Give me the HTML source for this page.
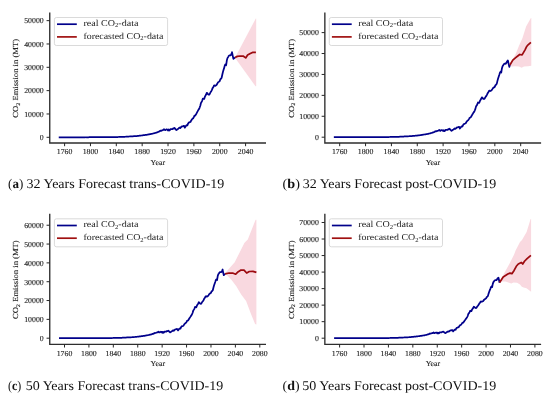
<!DOCTYPE html>
<html><head><meta charset="utf-8"><style>
html,body{margin:0;padding:0;background:#fff;}
svg{display:block;filter:blur(0.35px);}
text{font-family:"Liberation Serif", serif;text-rendering:geometricPrecision;}
.tk{font-size:7.6px;fill:#222;stroke:#222;stroke-width:0.12px;}
.sub{font-size:5.6px;}
.yl{font-size:7.7px;}
.lg{font-size:9px;fill:#222;}
.lsub{font-size:6px;}
.cap{font-size:13.4px;fill:#111;}
</style></head><body>
<svg width="550" height="398" viewBox="0 0 550 398">
<rect width="550" height="398" fill="#fff"/>
<polygon points="235.00,57.70 255.80,18.40 256.20,18.40 256.20,86.20 255.50,86.20" fill="#f9d9e0" stroke="none"/>
<polyline points="58.74,137.28 59.38,137.28 60.03,137.28 60.68,137.28 61.32,137.28 61.97,137.28 62.61,137.28 63.26,137.28 63.91,137.28 64.55,137.28 65.20,137.28 65.85,137.28 66.49,137.28 67.14,137.28 67.79,137.28 68.43,137.28 69.08,137.28 69.72,137.28 70.37,137.28 71.02,137.27 71.66,137.27 72.31,137.27 72.96,137.27 73.60,137.27 74.25,137.27 74.90,137.27 75.54,137.27 76.19,137.27 76.84,137.27 77.48,137.27 78.13,137.27 78.77,137.27 79.42,137.27 80.07,137.27 80.71,137.26 81.36,137.26 82.01,137.26 82.65,137.26 83.30,137.26 83.95,137.26 84.59,137.26 85.24,137.26 85.88,137.25 86.53,137.25 87.18,137.25 87.82,137.25 88.47,137.25 89.12,137.24 89.76,137.24 90.41,137.24 91.06,137.24 91.70,137.23 92.35,137.23 93.00,137.23 93.64,137.23 94.29,137.22 94.93,137.22 95.58,137.22 96.23,137.22 96.87,137.21 97.52,137.21 98.17,137.21 98.81,137.21 99.46,137.20 100.11,137.20 100.75,137.20 101.40,137.20 102.04,137.19 102.69,137.19 103.34,137.19 103.98,137.18 104.63,137.18 105.28,137.17 105.92,137.17 106.57,137.16 107.22,137.16 107.86,137.16 108.51,137.15 109.16,137.14 109.80,137.14 110.45,137.13 111.09,137.13 111.74,137.12 112.39,137.11 113.03,137.10 113.68,137.09 114.33,137.08 114.97,137.07 115.62,137.05 116.27,137.04 116.91,137.03 117.56,137.01 118.20,137.00 118.85,136.98 119.50,136.97 120.14,136.95 120.79,136.93 121.44,136.91 122.08,136.89 122.73,136.87 123.38,136.84 124.02,136.82 124.67,136.78 125.32,136.75 125.96,136.72 126.61,136.68 127.25,136.64 127.90,136.59 128.55,136.55 129.19,136.50 129.84,136.45 130.49,136.42 131.13,136.38 131.78,136.35 132.43,136.31 133.07,136.28 133.72,136.24 134.36,136.20 135.01,136.16 135.66,136.12 136.30,136.08 136.95,136.02 137.60,135.95 138.24,135.89 138.89,135.82 139.54,135.74 140.18,135.67 140.83,135.59 141.48,135.50 142.12,135.41 142.77,135.32 143.41,135.24 144.06,135.15 144.71,135.06 145.35,134.97 146.00,134.87 146.65,134.77 147.29,134.66 147.94,134.54 148.59,134.42 149.23,134.30 149.88,134.18 150.52,134.05 151.17,133.92 151.82,133.79 152.46,133.65 153.11,133.49 153.76,133.33 154.40,133.16 155.05,132.98 155.70,132.80 156.34,132.63 156.99,132.50 157.64,132.01 158.28,131.99 158.93,131.62 159.57,131.29 160.22,130.65 160.87,130.88 161.51,130.60 162.16,130.28 162.81,130.14 163.45,129.77 164.10,129.22 164.75,130.00 165.39,130.14 166.04,129.61 166.68,129.31 167.33,129.54 167.98,130.49 168.62,129.40 169.27,130.53 169.92,130.12 170.56,129.05 171.21,129.17 171.86,129.05 172.50,129.05 173.15,128.41 173.80,128.52 174.44,127.92 175.09,128.64 175.73,129.45 176.38,130.12 177.03,129.72 177.67,129.12 178.32,128.78 178.97,128.04 179.61,127.55 180.26,128.06 180.91,127.44 181.55,126.56 182.20,126.33 182.84,126.35 183.49,125.87 184.14,125.91 184.78,127.67 185.43,126.77 186.08,125.73 186.72,125.10 187.37,125.41 188.02,123.65 188.66,122.66 189.31,122.43 189.96,122.10 190.60,121.76 191.25,120.44 191.89,119.42 192.54,118.73 193.19,118.25 193.83,117.14 194.48,115.64 195.13,115.57 195.77,114.80 196.42,113.58 197.07,112.36 197.71,111.20 198.36,109.91 199.00,109.03 199.65,107.55 200.30,105.73 200.94,102.96 201.59,102.01 202.24,100.55 202.88,98.54 203.53,98.96 204.18,98.98 204.82,96.90 205.47,95.61 206.12,94.48 206.76,92.79 207.41,93.21 208.05,94.34 208.70,94.71 209.35,94.55 209.99,93.28 210.64,92.03 211.29,91.15 211.93,89.88 212.58,88.15 213.23,87.32 213.87,85.77 214.52,85.31 215.16,85.86 215.81,85.52 216.46,85.06 217.10,83.97 217.75,82.84 218.40,81.98 219.04,81.71 219.69,81.11 220.34,79.28 220.98,78.84 221.63,77.80 222.28,74.75 222.92,72.03 223.57,69.81 224.21,67.66 224.86,65.31 225.51,64.34 226.15,65.24 226.80,60.57 227.45,58.12 228.09,57.09 228.74,55.84 229.39,55.35 230.03,55.35 230.68,55.40 231.32,54.31 231.97,52.65 232.00,52.20 233.40,58.90 235.00,57.50" fill="none" stroke="#00008b" stroke-width="1.75" stroke-linejoin="round"/>
<polyline points="235.00,57.50 237.30,56.40 240.10,56.00 243.10,56.00 245.70,57.90 247.60,55.10 250.30,53.60 252.50,52.40 255.90,52.40" fill="none" stroke="#9c0a0f" stroke-width="1.75" stroke-linejoin="round"/>
<path d="M49.75 12.50V143.00H266.00" fill="none" stroke="#2e2e2e" stroke-width="1.35"/>
<path d="M46.55 137.30H49.75" stroke="#262626" stroke-width="1"/>
<text x="43.70" y="140.10" text-anchor="end" class="tk" textLength="3.90" lengthAdjust="spacingAndGlyphs">0</text>
<path d="M46.55 113.97H49.75" stroke="#262626" stroke-width="1"/>
<text x="43.70" y="116.77" text-anchor="end" class="tk" textLength="19.50" lengthAdjust="spacingAndGlyphs">10000</text>
<path d="M46.55 90.64H49.75" stroke="#262626" stroke-width="1"/>
<text x="43.70" y="93.44" text-anchor="end" class="tk" textLength="19.50" lengthAdjust="spacingAndGlyphs">20000</text>
<path d="M46.55 67.31H49.75" stroke="#262626" stroke-width="1"/>
<text x="43.70" y="70.11" text-anchor="end" class="tk" textLength="19.50" lengthAdjust="spacingAndGlyphs">30000</text>
<path d="M46.55 43.98H49.75" stroke="#262626" stroke-width="1"/>
<text x="43.70" y="46.78" text-anchor="end" class="tk" textLength="19.50" lengthAdjust="spacingAndGlyphs">40000</text>
<path d="M46.55 20.65H49.75" stroke="#262626" stroke-width="1"/>
<text x="43.70" y="23.45" text-anchor="end" class="tk" textLength="19.50" lengthAdjust="spacingAndGlyphs">50000</text>
<path d="M64.60 143.00V146.20" stroke="#262626" stroke-width="1"/>
<text x="64.60" y="154.20" text-anchor="middle" class="tk" textLength="15.6" lengthAdjust="spacingAndGlyphs">1760</text>
<path d="M90.46 143.00V146.20" stroke="#262626" stroke-width="1"/>
<text x="90.46" y="154.20" text-anchor="middle" class="tk" textLength="15.6" lengthAdjust="spacingAndGlyphs">1800</text>
<path d="M116.31 143.00V146.20" stroke="#262626" stroke-width="1"/>
<text x="116.31" y="154.20" text-anchor="middle" class="tk" textLength="15.6" lengthAdjust="spacingAndGlyphs">1840</text>
<path d="M142.17 143.00V146.20" stroke="#262626" stroke-width="1"/>
<text x="142.17" y="154.20" text-anchor="middle" class="tk" textLength="15.6" lengthAdjust="spacingAndGlyphs">1880</text>
<path d="M168.02 143.00V146.20" stroke="#262626" stroke-width="1"/>
<text x="168.02" y="154.20" text-anchor="middle" class="tk" textLength="15.6" lengthAdjust="spacingAndGlyphs">1920</text>
<path d="M193.88 143.00V146.20" stroke="#262626" stroke-width="1"/>
<text x="193.88" y="154.20" text-anchor="middle" class="tk" textLength="15.6" lengthAdjust="spacingAndGlyphs">1960</text>
<path d="M219.74 143.00V146.20" stroke="#262626" stroke-width="1"/>
<text x="219.74" y="154.20" text-anchor="middle" class="tk" textLength="15.6" lengthAdjust="spacingAndGlyphs">2000</text>
<path d="M245.59 143.00V146.20" stroke="#262626" stroke-width="1"/>
<text x="245.59" y="154.20" text-anchor="middle" class="tk" textLength="15.6" lengthAdjust="spacingAndGlyphs">2040</text>
<text x="157.80" y="164.80" text-anchor="middle" class="tk" textLength="14.4" lengthAdjust="spacingAndGlyphs">Year</text>
<text transform="translate(18.40,78.40) rotate(-90)" text-anchor="middle" class="tk yl" textLength="78.8" lengthAdjust="spacingAndGlyphs">CO<tspan class="sub" dy="1.3">2</tspan><tspan dy="-1.3"> Emission in (MT)</tspan></text>
<rect x="54.40" y="17.50" width="113.2" height="28" rx="2" fill="#fff" fill-opacity="0.8" stroke="#d0d0d0" stroke-width="0.8"/>
<path d="M57.00 24.20H76.80" stroke="#00008b" stroke-width="1.7"/>
<path d="M57.00 36.90H76.80" stroke="#a01010" stroke-width="1.7"/>
<text x="83.40" y="25.90" class="lg" textLength="55" lengthAdjust="spacingAndGlyphs">real CO<tspan class="lsub" dy="1.5">2</tspan><tspan dy="-1.5">-data</tspan></text>
<text x="83.40" y="38.80" class="lg" textLength="80" lengthAdjust="spacingAndGlyphs">forecasted CO<tspan class="lsub" dy="1.5">2</tspan><tspan dy="-1.5">-data</tspan></text>
<text x="8.10" y="187.80" class="cap" textLength="15.20" lengthAdjust="spacingAndGlyphs"><tspan>(</tspan><tspan font-weight="bold">a</tspan><tspan>)</tspan></text>
<text x="26.40" y="187.80" class="cap" textLength="198.00" lengthAdjust="spacingAndGlyphs">32 Years Forecast trans-COVID-19</text>
<polygon points="509.60,66.00 512.00,60.50 515.70,54.10 518.90,46.00 522.50,38.00 526.10,26.60 530.90,18.10 531.30,18.10 531.30,65.70 528.00,66.30 524.00,66.50 521.60,67.70 519.00,66.60 515.00,66.20 512.00,66.40" fill="#f9d9e0" stroke="none"/>
<polyline points="333.84,137.18 334.48,137.18 335.13,137.18 335.78,137.18 336.42,137.18 337.07,137.18 337.71,137.18 338.36,137.18 339.01,137.18 339.65,137.18 340.30,137.18 340.95,137.18 341.59,137.18 342.24,137.18 342.89,137.18 343.53,137.18 344.18,137.18 344.82,137.18 345.47,137.18 346.12,137.18 346.76,137.18 347.41,137.18 348.06,137.18 348.70,137.18 349.35,137.17 350.00,137.17 350.64,137.17 351.29,137.17 351.94,137.17 352.58,137.17 353.23,137.17 353.87,137.17 354.52,137.17 355.17,137.17 355.81,137.17 356.46,137.17 357.11,137.17 357.75,137.17 358.40,137.16 359.05,137.16 359.69,137.16 360.34,137.16 360.98,137.16 361.63,137.16 362.28,137.16 362.92,137.15 363.57,137.15 364.22,137.15 364.86,137.15 365.51,137.14 366.16,137.14 366.80,137.14 367.45,137.14 368.10,137.14 368.74,137.13 369.39,137.13 370.03,137.13 370.68,137.13 371.33,137.13 371.97,137.12 372.62,137.12 373.27,137.12 373.91,137.12 374.56,137.11 375.21,137.11 375.85,137.11 376.50,137.11 377.14,137.10 377.79,137.10 378.44,137.10 379.08,137.09 379.73,137.09 380.38,137.09 381.02,137.08 381.67,137.08 382.32,137.07 382.96,137.07 383.61,137.07 384.26,137.06 384.90,137.06 385.55,137.05 386.19,137.04 386.84,137.04 387.49,137.03 388.13,137.02 388.78,137.01 389.43,137.00 390.07,136.99 390.72,136.98 391.37,136.97 392.01,136.96 392.66,136.94 393.30,136.93 393.95,136.91 394.60,136.90 395.24,136.88 395.89,136.87 396.54,136.85 397.18,136.83 397.83,136.81 398.48,136.79 399.12,136.77 399.77,136.74 400.42,136.71 401.06,136.68 401.71,136.64 402.35,136.61 403.00,136.57 403.65,136.53 404.29,136.48 404.94,136.44 405.59,136.41 406.23,136.38 406.88,136.35 407.53,136.32 408.17,136.28 408.82,136.25 409.46,136.22 410.11,136.18 410.76,136.14 411.40,136.10 412.05,136.05 412.70,135.99 413.34,135.93 413.99,135.87 414.64,135.80 415.28,135.74 415.93,135.66 416.58,135.59 417.22,135.51 417.87,135.43 418.51,135.35 419.16,135.27 419.81,135.20 420.45,135.11 421.10,135.03 421.75,134.93 422.39,134.83 423.04,134.73 423.69,134.62 424.33,134.51 424.98,134.40 425.62,134.29 426.27,134.17 426.92,134.05 427.56,133.93 428.21,133.79 428.86,133.64 429.50,133.49 430.15,133.33 430.80,133.16 431.44,133.02 432.09,132.89 432.74,132.46 433.38,132.44 434.03,132.11 434.67,131.82 435.32,131.24 435.97,131.44 436.61,131.19 437.26,130.90 437.91,130.78 438.55,130.45 439.20,129.95 439.85,130.66 440.49,130.78 441.14,130.30 441.78,130.03 442.43,130.24 443.08,131.09 443.72,130.12 444.37,131.13 445.02,130.76 445.66,129.81 446.31,129.91 446.96,129.81 447.60,129.81 448.25,129.23 448.90,129.33 449.54,128.79 450.19,129.43 450.83,130.16 451.48,130.76 452.13,130.41 452.77,129.87 453.42,129.56 454.07,128.89 454.71,128.46 455.36,128.92 456.01,128.36 456.65,127.57 457.30,127.36 457.94,127.38 458.59,126.95 459.24,126.99 459.88,128.56 460.53,127.76 461.18,126.82 461.82,126.26 462.47,126.53 463.12,124.96 463.76,124.07 464.41,123.86 465.06,123.57 465.70,123.26 466.35,122.08 466.99,121.17 467.64,120.55 468.29,120.11 468.93,119.12 469.58,117.77 470.23,117.71 470.87,117.03 471.52,115.93 472.17,114.83 472.81,113.80 473.46,112.64 474.10,111.85 474.75,110.52 475.40,108.89 476.04,106.40 476.69,105.55 477.34,104.25 477.98,102.45 478.63,102.82 479.28,102.84 479.92,100.98 480.57,99.82 481.22,98.80 481.86,97.29 482.51,97.66 483.15,98.68 483.80,99.01 484.45,98.86 485.09,97.73 485.74,96.61 486.39,95.82 487.03,94.68 487.68,93.13 488.33,92.38 488.97,90.99 489.62,90.58 490.26,91.08 490.91,90.77 491.56,90.35 492.20,89.38 492.85,88.36 493.50,87.60 494.14,87.35 494.79,86.81 495.44,85.17 496.08,84.78 496.73,83.85 497.38,81.12 498.02,78.67 498.67,76.68 499.31,74.76 499.96,72.64 500.61,71.77 501.25,72.58 501.90,68.40 502.55,66.20 503.19,65.27 503.84,64.15 504.49,63.72 505.13,63.72 505.78,63.76 506.42,62.79 507.07,61.29 507.90,60.50 509.30,66.90 509.90,65.00" fill="none" stroke="#00008b" stroke-width="1.75" stroke-linejoin="round"/>
<polyline points="509.90,65.00 512.80,60.10 515.70,57.70 519.70,54.50 522.10,54.90 524.90,50.10 526.50,46.80 528.10,44.80 530.90,42.40" fill="none" stroke="#9c0a0f" stroke-width="1.75" stroke-linejoin="round"/>
<path d="M324.85 12.50V143.00H541.10" fill="none" stroke="#2e2e2e" stroke-width="1.35"/>
<path d="M321.65 137.20H324.85" stroke="#262626" stroke-width="1"/>
<text x="318.80" y="140.00" text-anchor="end" class="tk" textLength="3.90" lengthAdjust="spacingAndGlyphs">0</text>
<path d="M321.65 116.28H324.85" stroke="#262626" stroke-width="1"/>
<text x="318.80" y="119.08" text-anchor="end" class="tk" textLength="19.50" lengthAdjust="spacingAndGlyphs">10000</text>
<path d="M321.65 95.36H324.85" stroke="#262626" stroke-width="1"/>
<text x="318.80" y="98.16" text-anchor="end" class="tk" textLength="19.50" lengthAdjust="spacingAndGlyphs">20000</text>
<path d="M321.65 74.44H324.85" stroke="#262626" stroke-width="1"/>
<text x="318.80" y="77.24" text-anchor="end" class="tk" textLength="19.50" lengthAdjust="spacingAndGlyphs">30000</text>
<path d="M321.65 53.52H324.85" stroke="#262626" stroke-width="1"/>
<text x="318.80" y="56.32" text-anchor="end" class="tk" textLength="19.50" lengthAdjust="spacingAndGlyphs">40000</text>
<path d="M321.65 32.60H324.85" stroke="#262626" stroke-width="1"/>
<text x="318.80" y="35.40" text-anchor="end" class="tk" textLength="19.50" lengthAdjust="spacingAndGlyphs">50000</text>
<path d="M339.70 143.00V146.20" stroke="#262626" stroke-width="1"/>
<text x="339.70" y="154.20" text-anchor="middle" class="tk" textLength="15.6" lengthAdjust="spacingAndGlyphs">1760</text>
<path d="M365.56 143.00V146.20" stroke="#262626" stroke-width="1"/>
<text x="365.56" y="154.20" text-anchor="middle" class="tk" textLength="15.6" lengthAdjust="spacingAndGlyphs">1800</text>
<path d="M391.41 143.00V146.20" stroke="#262626" stroke-width="1"/>
<text x="391.41" y="154.20" text-anchor="middle" class="tk" textLength="15.6" lengthAdjust="spacingAndGlyphs">1840</text>
<path d="M417.27 143.00V146.20" stroke="#262626" stroke-width="1"/>
<text x="417.27" y="154.20" text-anchor="middle" class="tk" textLength="15.6" lengthAdjust="spacingAndGlyphs">1880</text>
<path d="M443.12 143.00V146.20" stroke="#262626" stroke-width="1"/>
<text x="443.12" y="154.20" text-anchor="middle" class="tk" textLength="15.6" lengthAdjust="spacingAndGlyphs">1920</text>
<path d="M468.98 143.00V146.20" stroke="#262626" stroke-width="1"/>
<text x="468.98" y="154.20" text-anchor="middle" class="tk" textLength="15.6" lengthAdjust="spacingAndGlyphs">1960</text>
<path d="M494.84 143.00V146.20" stroke="#262626" stroke-width="1"/>
<text x="494.84" y="154.20" text-anchor="middle" class="tk" textLength="15.6" lengthAdjust="spacingAndGlyphs">2000</text>
<path d="M520.69 143.00V146.20" stroke="#262626" stroke-width="1"/>
<text x="520.69" y="154.20" text-anchor="middle" class="tk" textLength="15.6" lengthAdjust="spacingAndGlyphs">2040</text>
<text x="432.90" y="164.80" text-anchor="middle" class="tk" textLength="14.4" lengthAdjust="spacingAndGlyphs">Year</text>
<text transform="translate(293.50,78.40) rotate(-90)" text-anchor="middle" class="tk yl" textLength="78.8" lengthAdjust="spacingAndGlyphs">CO<tspan class="sub" dy="1.3">2</tspan><tspan dy="-1.3"> Emission in (MT)</tspan></text>
<rect x="329.30" y="17.50" width="113.2" height="28" rx="2" fill="#fff" fill-opacity="0.8" stroke="#d0d0d0" stroke-width="0.8"/>
<path d="M331.90 24.20H351.70" stroke="#00008b" stroke-width="1.7"/>
<path d="M331.90 36.90H351.70" stroke="#a01010" stroke-width="1.7"/>
<text x="358.30" y="25.90" class="lg" textLength="55" lengthAdjust="spacingAndGlyphs">real CO<tspan class="lsub" dy="1.5">2</tspan><tspan dy="-1.5">-data</tspan></text>
<text x="358.30" y="38.80" class="lg" textLength="80" lengthAdjust="spacingAndGlyphs">forecasted CO<tspan class="lsub" dy="1.5">2</tspan><tspan dy="-1.5">-data</tspan></text>
<text x="282.60" y="187.80" class="cap" textLength="17.40" lengthAdjust="spacingAndGlyphs"><tspan>(</tspan><tspan font-weight="bold">b</tspan><tspan>)</tspan></text>
<text x="302.70" y="187.80" class="cap" textLength="193.50" lengthAdjust="spacingAndGlyphs">32 Years Forecast post-COVID-19</text>
<polygon points="225.10,273.30 234.70,262.30 244.50,242.70 247.80,239.40 255.60,219.80 256.40,219.80 256.40,324.50 255.10,323.90 251.00,314.10 246.10,301.00 241.20,294.50 236.30,286.30 231.40,279.80" fill="#f9d9e0" stroke="none"/>
<polyline points="59.00,338.18 59.61,338.18 60.22,338.18 60.83,338.18 61.44,338.18 62.05,338.18 62.66,338.18 63.27,338.18 63.88,338.18 64.49,338.18 65.10,338.18 65.71,338.18 66.32,338.18 66.93,338.18 67.54,338.18 68.15,338.18 68.76,338.18 69.37,338.18 69.98,338.18 70.59,338.18 71.20,338.18 71.81,338.18 72.42,338.18 73.03,338.18 73.64,338.18 74.25,338.18 74.86,338.18 75.48,338.18 76.09,338.18 76.70,338.17 77.31,338.17 77.92,338.17 78.53,338.17 79.14,338.17 79.75,338.17 80.36,338.17 80.97,338.17 81.58,338.17 82.19,338.17 82.80,338.17 83.41,338.17 84.02,338.16 84.63,338.16 85.24,338.16 85.85,338.16 86.46,338.16 87.07,338.16 87.68,338.15 88.29,338.15 88.90,338.15 89.51,338.15 90.12,338.15 90.73,338.14 91.34,338.14 91.95,338.14 92.56,338.14 93.17,338.14 93.78,338.14 94.39,338.13 95.00,338.13 95.61,338.13 96.23,338.13 96.84,338.12 97.45,338.12 98.06,338.12 98.67,338.12 99.28,338.12 99.89,338.11 100.50,338.11 101.11,338.11 101.72,338.10 102.33,338.10 102.94,338.10 103.55,338.09 104.16,338.09 104.77,338.09 105.38,338.08 105.99,338.08 106.60,338.07 107.21,338.07 107.82,338.07 108.43,338.06 109.04,338.05 109.65,338.04 110.26,338.04 110.87,338.03 111.48,338.02 112.09,338.01 112.70,338.00 113.31,337.99 113.92,337.98 114.53,337.97 115.14,337.96 115.75,337.94 116.37,337.93 116.98,337.92 117.59,337.90 118.20,337.89 118.81,337.87 119.42,337.85 120.03,337.83 120.64,337.81 121.25,337.78 121.86,337.76 122.47,337.73 123.08,337.70 123.69,337.66 124.30,337.63 124.91,337.59 125.52,337.55 126.13,337.51 126.74,337.49 127.35,337.46 127.96,337.43 128.57,337.40 129.18,337.38 129.79,337.35 130.40,337.31 131.01,337.28 131.62,337.25 132.23,337.21 132.84,337.16 133.45,337.11 134.06,337.06 134.67,337.00 135.28,336.94 135.89,336.88 136.51,336.82 137.12,336.75 137.73,336.68 138.34,336.60 138.95,336.54 139.56,336.47 140.17,336.40 140.78,336.32 141.39,336.24 142.00,336.16 142.61,336.07 143.22,335.98 143.83,335.88 144.44,335.78 145.05,335.68 145.66,335.58 146.27,335.48 146.88,335.37 147.49,335.25 148.10,335.13 148.71,335.00 149.32,334.86 149.93,334.71 150.54,334.56 151.15,334.43 151.76,334.32 152.37,333.93 152.98,333.91 153.59,333.61 154.20,333.35 154.81,332.83 155.42,333.02 156.03,332.79 156.64,332.53 157.26,332.42 157.87,332.12 158.48,331.68 159.09,332.31 159.70,332.42 160.31,331.99 160.92,331.75 161.53,331.94 162.14,332.70 162.75,331.82 163.36,332.74 163.97,332.40 164.58,331.54 165.19,331.64 165.80,331.54 166.41,331.54 167.02,331.02 167.63,331.12 168.24,330.63 168.85,331.21 169.46,331.86 170.07,332.40 170.68,332.09 171.29,331.60 171.90,331.32 172.51,330.72 173.12,330.33 173.73,330.74 174.34,330.24 174.95,329.53 175.56,329.35 176.17,329.36 176.78,328.97 177.40,329.01 178.01,330.43 178.62,329.70 179.23,328.86 179.84,328.36 180.45,328.60 181.06,327.18 181.67,326.38 182.28,326.19 182.89,325.93 183.50,325.65 184.11,324.59 184.72,323.77 185.33,323.21 185.94,322.82 186.55,321.93 187.16,320.71 187.77,320.66 188.38,320.04 188.99,319.05 189.60,318.07 190.21,317.13 190.82,316.09 191.43,315.38 192.04,314.19 192.65,312.72 193.26,310.48 193.87,309.72 194.48,308.54 195.09,306.92 195.70,307.25 196.31,307.27 196.92,305.60 197.54,304.55 198.15,303.64 198.76,302.28 199.37,302.61 199.98,303.53 200.59,303.82 201.20,303.69 201.81,302.67 202.42,301.66 203.03,300.95 203.64,299.93 204.25,298.53 204.86,297.86 205.47,296.61 206.08,296.24 206.69,296.68 207.30,296.41 207.91,296.03 208.52,295.16 209.13,294.24 209.74,293.55 210.35,293.33 210.96,292.84 211.57,291.37 212.18,291.02 212.79,290.18 213.40,287.72 214.01,285.52 214.62,283.73 215.23,282.00 215.84,280.09 216.45,279.31 217.06,280.04 217.67,276.27 218.29,274.30 218.90,273.46 219.51,272.45 220.12,272.06 220.73,272.06 221.34,272.10 221.95,271.22 222.56,269.88 222.50,269.50 223.80,275.20 225.10,273.90" fill="none" stroke="#00008b" stroke-width="1.75" stroke-linejoin="round"/>
<polyline points="225.10,273.90 229.10,273.00 232.60,273.00 235.70,274.20 238.30,271.70 241.00,270.10 244.00,270.10 246.70,273.00 249.30,271.50 252.90,271.30 256.40,272.40" fill="none" stroke="#9c0a0f" stroke-width="1.75" stroke-linejoin="round"/>
<path d="M49.75 213.80V344.30H266.00" fill="none" stroke="#2e2e2e" stroke-width="1.35"/>
<path d="M46.55 338.20H49.75" stroke="#262626" stroke-width="1"/>
<text x="43.70" y="341.00" text-anchor="end" class="tk" textLength="3.90" lengthAdjust="spacingAndGlyphs">0</text>
<path d="M46.55 319.37H49.75" stroke="#262626" stroke-width="1"/>
<text x="43.70" y="322.17" text-anchor="end" class="tk" textLength="19.50" lengthAdjust="spacingAndGlyphs">10000</text>
<path d="M46.55 300.54H49.75" stroke="#262626" stroke-width="1"/>
<text x="43.70" y="303.34" text-anchor="end" class="tk" textLength="19.50" lengthAdjust="spacingAndGlyphs">20000</text>
<path d="M46.55 281.71H49.75" stroke="#262626" stroke-width="1"/>
<text x="43.70" y="284.51" text-anchor="end" class="tk" textLength="19.50" lengthAdjust="spacingAndGlyphs">30000</text>
<path d="M46.55 262.88H49.75" stroke="#262626" stroke-width="1"/>
<text x="43.70" y="265.68" text-anchor="end" class="tk" textLength="19.50" lengthAdjust="spacingAndGlyphs">40000</text>
<path d="M46.55 244.05H49.75" stroke="#262626" stroke-width="1"/>
<text x="43.70" y="246.85" text-anchor="end" class="tk" textLength="19.50" lengthAdjust="spacingAndGlyphs">50000</text>
<path d="M46.55 225.22H49.75" stroke="#262626" stroke-width="1"/>
<text x="43.70" y="228.02" text-anchor="end" class="tk" textLength="19.50" lengthAdjust="spacingAndGlyphs">60000</text>
<path d="M64.50 344.30V347.50" stroke="#262626" stroke-width="1"/>
<text x="64.50" y="355.50" text-anchor="middle" class="tk" textLength="15.6" lengthAdjust="spacingAndGlyphs">1760</text>
<path d="M88.91 344.30V347.50" stroke="#262626" stroke-width="1"/>
<text x="88.91" y="355.50" text-anchor="middle" class="tk" textLength="15.6" lengthAdjust="spacingAndGlyphs">1800</text>
<path d="M113.32 344.30V347.50" stroke="#262626" stroke-width="1"/>
<text x="113.32" y="355.50" text-anchor="middle" class="tk" textLength="15.6" lengthAdjust="spacingAndGlyphs">1840</text>
<path d="M137.74 344.30V347.50" stroke="#262626" stroke-width="1"/>
<text x="137.74" y="355.50" text-anchor="middle" class="tk" textLength="15.6" lengthAdjust="spacingAndGlyphs">1880</text>
<path d="M162.15 344.30V347.50" stroke="#262626" stroke-width="1"/>
<text x="162.15" y="355.50" text-anchor="middle" class="tk" textLength="15.6" lengthAdjust="spacingAndGlyphs">1920</text>
<path d="M186.56 344.30V347.50" stroke="#262626" stroke-width="1"/>
<text x="186.56" y="355.50" text-anchor="middle" class="tk" textLength="15.6" lengthAdjust="spacingAndGlyphs">1960</text>
<path d="M210.97 344.30V347.50" stroke="#262626" stroke-width="1"/>
<text x="210.97" y="355.50" text-anchor="middle" class="tk" textLength="15.6" lengthAdjust="spacingAndGlyphs">2000</text>
<path d="M235.38 344.30V347.50" stroke="#262626" stroke-width="1"/>
<text x="235.38" y="355.50" text-anchor="middle" class="tk" textLength="15.6" lengthAdjust="spacingAndGlyphs">2040</text>
<path d="M259.80 344.30V347.50" stroke="#262626" stroke-width="1"/>
<text x="259.80" y="355.50" text-anchor="middle" class="tk" textLength="15.6" lengthAdjust="spacingAndGlyphs">2080</text>
<text x="157.80" y="366.10" text-anchor="middle" class="tk" textLength="14.4" lengthAdjust="spacingAndGlyphs">Year</text>
<text transform="translate(18.40,279.70) rotate(-90)" text-anchor="middle" class="tk yl" textLength="78.8" lengthAdjust="spacingAndGlyphs">CO<tspan class="sub" dy="1.3">2</tspan><tspan dy="-1.3"> Emission in (MT)</tspan></text>
<rect x="54.40" y="218.80" width="113.2" height="28" rx="2" fill="#fff" fill-opacity="0.8" stroke="#d0d0d0" stroke-width="0.8"/>
<path d="M57.00 225.50H76.80" stroke="#00008b" stroke-width="1.7"/>
<path d="M57.00 238.20H76.80" stroke="#a01010" stroke-width="1.7"/>
<text x="83.40" y="227.20" class="lg" textLength="55" lengthAdjust="spacingAndGlyphs">real CO<tspan class="lsub" dy="1.5">2</tspan><tspan dy="-1.5">-data</tspan></text>
<text x="83.40" y="240.10" class="lg" textLength="80" lengthAdjust="spacingAndGlyphs">forecasted CO<tspan class="lsub" dy="1.5">2</tspan><tspan dy="-1.5">-data</tspan></text>
<text x="8.00" y="389.50" class="cap" textLength="13.30" lengthAdjust="spacingAndGlyphs"><tspan>(</tspan><tspan font-weight="bold">c</tspan><tspan>)</tspan></text>
<text x="25.70" y="389.50" class="cap" textLength="197.50" lengthAdjust="spacingAndGlyphs">50 Years Forecast trans-COVID-19</text>
<polygon points="499.60,282.00 504.60,272.60 509.60,263.60 514.10,254.50 515.60,250.50 520.00,242.10 522.00,240.10 526.60,232.10 530.60,219.00 531.10,219.00 531.10,291.80 529.50,290.40 526.50,288.20 523.60,287.50 521.80,286.70 520.00,284.50 517.10,282.70 513.50,282.40 511.30,283.50 509.10,282.70 505.50,281.60 500.40,281.60" fill="#f9d9e0" stroke="none"/>
<polyline points="334.10,338.19 334.71,338.19 335.32,338.18 335.93,338.18 336.54,338.18 337.15,338.18 337.76,338.18 338.37,338.18 338.98,338.18 339.59,338.18 340.20,338.18 340.81,338.18 341.42,338.18 342.03,338.18 342.64,338.18 343.25,338.18 343.86,338.18 344.47,338.18 345.08,338.18 345.69,338.18 346.30,338.18 346.91,338.18 347.52,338.18 348.13,338.18 348.74,338.18 349.35,338.18 349.96,338.18 350.58,338.18 351.19,338.18 351.80,338.18 352.41,338.18 353.02,338.18 353.63,338.18 354.24,338.18 354.85,338.17 355.46,338.17 356.07,338.17 356.68,338.17 357.29,338.17 357.90,338.17 358.51,338.17 359.12,338.17 359.73,338.17 360.34,338.17 360.95,338.16 361.56,338.16 362.17,338.16 362.78,338.16 363.39,338.16 364.00,338.16 364.61,338.15 365.22,338.15 365.83,338.15 366.44,338.15 367.05,338.15 367.66,338.15 368.27,338.14 368.88,338.14 369.49,338.14 370.10,338.14 370.72,338.14 371.33,338.14 371.94,338.13 372.55,338.13 373.16,338.13 373.77,338.13 374.38,338.13 374.99,338.12 375.60,338.12 376.21,338.12 376.82,338.12 377.43,338.11 378.04,338.11 378.65,338.11 379.26,338.10 379.87,338.10 380.48,338.10 381.09,338.09 381.70,338.09 382.31,338.09 382.92,338.08 383.53,338.08 384.14,338.07 384.75,338.06 385.36,338.06 385.97,338.05 386.58,338.04 387.19,338.03 387.80,338.03 388.41,338.02 389.02,338.01 389.63,338.00 390.24,337.99 390.85,337.97 391.47,337.96 392.08,337.95 392.69,337.94 393.30,337.92 393.91,337.91 394.52,337.89 395.13,337.88 395.74,337.86 396.35,337.83 396.96,337.81 397.57,337.79 398.18,337.76 398.79,337.73 399.40,337.70 400.01,337.67 400.62,337.63 401.23,337.60 401.84,337.57 402.45,337.55 403.06,337.53 403.67,337.50 404.28,337.48 404.89,337.45 405.50,337.42 406.11,337.39 406.72,337.36 407.33,337.33 407.94,337.29 408.55,337.25 409.16,337.20 409.77,337.15 410.38,337.10 410.99,337.04 411.61,336.99 412.22,336.93 412.83,336.86 413.44,336.80 414.05,336.74 414.66,336.68 415.27,336.62 415.88,336.55 416.49,336.48 417.10,336.41 417.71,336.33 418.32,336.25 418.93,336.16 419.54,336.07 420.15,335.99 420.76,335.90 421.37,335.81 421.98,335.71 422.59,335.61 423.20,335.50 423.81,335.39 424.42,335.27 425.03,335.14 425.64,335.01 426.25,334.89 426.86,334.80 427.47,334.45 428.08,334.44 428.69,334.17 429.30,333.95 429.91,333.49 430.52,333.65 431.13,333.45 431.75,333.23 432.36,333.13 432.97,332.87 433.58,332.47 434.19,333.03 434.80,333.13 435.41,332.75 436.02,332.54 436.63,332.70 437.24,333.37 437.85,332.60 438.46,333.41 439.07,333.11 439.68,332.36 440.29,332.44 440.90,332.36 441.51,332.36 442.12,331.90 442.73,331.98 443.34,331.56 443.95,332.06 444.56,332.64 445.17,333.11 445.78,332.83 446.39,332.41 447.00,332.16 447.61,331.64 448.22,331.29 448.83,331.65 449.44,331.21 450.05,330.59 450.66,330.43 451.27,330.44 451.88,330.10 452.50,330.13 453.11,331.38 453.72,330.74 454.33,330.00 454.94,329.56 455.55,329.77 456.16,328.53 456.77,327.82 457.38,327.66 457.99,327.43 458.60,327.19 459.21,326.25 459.82,325.53 460.43,325.04 461.04,324.70 461.65,323.91 462.26,322.85 462.87,322.80 463.48,322.26 464.09,321.39 464.70,320.53 465.31,319.71 465.92,318.79 466.53,318.17 467.14,317.12 467.75,315.83 468.36,313.87 468.97,313.19 469.58,312.16 470.19,310.74 470.80,311.03 471.41,311.05 472.02,309.58 472.64,308.66 473.25,307.86 473.86,306.67 474.47,306.96 475.08,307.76 475.69,308.02 476.30,307.91 476.91,307.01 477.52,306.13 478.13,305.50 478.74,304.60 479.35,303.38 479.96,302.79 480.57,301.69 481.18,301.36 481.79,301.76 482.40,301.51 483.01,301.18 483.62,300.41 484.23,299.61 484.84,299.01 485.45,298.81 486.06,298.38 486.67,297.09 487.28,296.78 487.89,296.04 488.50,293.88 489.11,291.95 489.72,290.38 490.33,288.86 490.94,287.19 491.55,286.50 492.16,287.14 492.78,283.84 493.39,282.10 494.00,281.37 494.61,280.48 495.22,280.14 495.83,280.14 496.44,280.17 497.05,279.40 497.66,278.22 498.50,277.70 499.60,282.80" fill="none" stroke="#00008b" stroke-width="1.75" stroke-linejoin="round"/>
<polyline points="499.60,282.40 503.20,276.90 507.80,274.00 510.00,273.10 511.90,273.70 514.10,270.40 516.30,266.30 518.30,264.00 521.30,262.50 522.70,264.00 524.70,261.00 527.10,258.60 530.90,255.40" fill="none" stroke="#9c0a0f" stroke-width="1.75" stroke-linejoin="round"/>
<path d="M324.85 213.80V344.30H541.10" fill="none" stroke="#2e2e2e" stroke-width="1.35"/>
<path d="M321.65 338.20H324.85" stroke="#262626" stroke-width="1"/>
<text x="318.80" y="341.00" text-anchor="end" class="tk" textLength="3.90" lengthAdjust="spacingAndGlyphs">0</text>
<path d="M321.65 321.67H324.85" stroke="#262626" stroke-width="1"/>
<text x="318.80" y="324.47" text-anchor="end" class="tk" textLength="19.50" lengthAdjust="spacingAndGlyphs">10000</text>
<path d="M321.65 305.14H324.85" stroke="#262626" stroke-width="1"/>
<text x="318.80" y="307.94" text-anchor="end" class="tk" textLength="19.50" lengthAdjust="spacingAndGlyphs">20000</text>
<path d="M321.65 288.61H324.85" stroke="#262626" stroke-width="1"/>
<text x="318.80" y="291.41" text-anchor="end" class="tk" textLength="19.50" lengthAdjust="spacingAndGlyphs">30000</text>
<path d="M321.65 272.08H324.85" stroke="#262626" stroke-width="1"/>
<text x="318.80" y="274.88" text-anchor="end" class="tk" textLength="19.50" lengthAdjust="spacingAndGlyphs">40000</text>
<path d="M321.65 255.55H324.85" stroke="#262626" stroke-width="1"/>
<text x="318.80" y="258.35" text-anchor="end" class="tk" textLength="19.50" lengthAdjust="spacingAndGlyphs">50000</text>
<path d="M321.65 239.02H324.85" stroke="#262626" stroke-width="1"/>
<text x="318.80" y="241.82" text-anchor="end" class="tk" textLength="19.50" lengthAdjust="spacingAndGlyphs">60000</text>
<path d="M321.65 222.49H324.85" stroke="#262626" stroke-width="1"/>
<text x="318.80" y="225.29" text-anchor="end" class="tk" textLength="19.50" lengthAdjust="spacingAndGlyphs">70000</text>
<path d="M339.60 344.30V347.50" stroke="#262626" stroke-width="1"/>
<text x="339.60" y="355.50" text-anchor="middle" class="tk" textLength="15.6" lengthAdjust="spacingAndGlyphs">1760</text>
<path d="M364.01 344.30V347.50" stroke="#262626" stroke-width="1"/>
<text x="364.01" y="355.50" text-anchor="middle" class="tk" textLength="15.6" lengthAdjust="spacingAndGlyphs">1800</text>
<path d="M388.42 344.30V347.50" stroke="#262626" stroke-width="1"/>
<text x="388.42" y="355.50" text-anchor="middle" class="tk" textLength="15.6" lengthAdjust="spacingAndGlyphs">1840</text>
<path d="M412.84 344.30V347.50" stroke="#262626" stroke-width="1"/>
<text x="412.84" y="355.50" text-anchor="middle" class="tk" textLength="15.6" lengthAdjust="spacingAndGlyphs">1880</text>
<path d="M437.25 344.30V347.50" stroke="#262626" stroke-width="1"/>
<text x="437.25" y="355.50" text-anchor="middle" class="tk" textLength="15.6" lengthAdjust="spacingAndGlyphs">1920</text>
<path d="M461.66 344.30V347.50" stroke="#262626" stroke-width="1"/>
<text x="461.66" y="355.50" text-anchor="middle" class="tk" textLength="15.6" lengthAdjust="spacingAndGlyphs">1960</text>
<path d="M486.07 344.30V347.50" stroke="#262626" stroke-width="1"/>
<text x="486.07" y="355.50" text-anchor="middle" class="tk" textLength="15.6" lengthAdjust="spacingAndGlyphs">2000</text>
<path d="M510.48 344.30V347.50" stroke="#262626" stroke-width="1"/>
<text x="510.48" y="355.50" text-anchor="middle" class="tk" textLength="15.6" lengthAdjust="spacingAndGlyphs">2040</text>
<path d="M534.90 344.30V347.50" stroke="#262626" stroke-width="1"/>
<text x="534.90" y="355.50" text-anchor="middle" class="tk" textLength="15.6" lengthAdjust="spacingAndGlyphs">2080</text>
<text x="432.90" y="366.10" text-anchor="middle" class="tk" textLength="14.4" lengthAdjust="spacingAndGlyphs">Year</text>
<text transform="translate(293.50,279.70) rotate(-90)" text-anchor="middle" class="tk yl" textLength="78.8" lengthAdjust="spacingAndGlyphs">CO<tspan class="sub" dy="1.3">2</tspan><tspan dy="-1.3"> Emission in (MT)</tspan></text>
<rect x="329.30" y="218.80" width="113.2" height="28" rx="2" fill="#fff" fill-opacity="0.8" stroke="#d0d0d0" stroke-width="0.8"/>
<path d="M331.90 225.50H351.70" stroke="#00008b" stroke-width="1.7"/>
<path d="M331.90 238.20H351.70" stroke="#a01010" stroke-width="1.7"/>
<text x="358.30" y="227.20" class="lg" textLength="55" lengthAdjust="spacingAndGlyphs">real CO<tspan class="lsub" dy="1.5">2</tspan><tspan dy="-1.5">-data</tspan></text>
<text x="358.30" y="240.10" class="lg" textLength="80" lengthAdjust="spacingAndGlyphs">forecasted CO<tspan class="lsub" dy="1.5">2</tspan><tspan dy="-1.5">-data</tspan></text>
<text x="282.60" y="389.50" class="cap" textLength="17.00" lengthAdjust="spacingAndGlyphs"><tspan>(</tspan><tspan font-weight="bold">d</tspan><tspan>)</tspan></text>
<text x="302.30" y="389.50" class="cap" textLength="193.90" lengthAdjust="spacingAndGlyphs">50 Years Forecast post-COVID-19</text>
</svg>
</body></html>
